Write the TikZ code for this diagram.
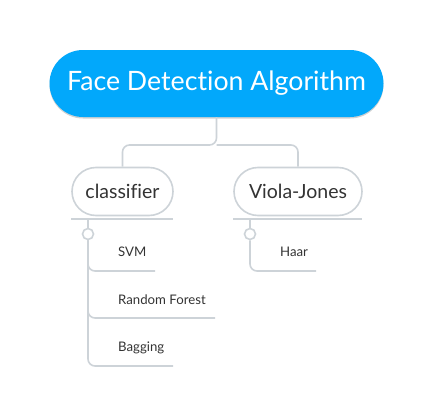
\documentclass[tikz,border=0pt]{standalone}
\usepackage{fontspec}
\setmainfont[Ligatures={NoCommon,NoRequired,NoContextual}]{Lato}
\usetikzlibrary{shadows}
\definecolor{rootblue}{HTML}{02A8FB}
\definecolor{linegray}{HTML}{CDD3D8}
\definecolor{txt}{HTML}{333333}
\tikzset{
  rootbox/.style={fill=rootblue, text=white, rounded corners=33.5pt, minimum width=334pt, minimum height=67pt, inner sep=0pt, font=\fontsize{26.7}{30}\selectfont,
    drop shadow={shadow xshift=0pt, shadow yshift=-1.5pt, opacity=0.18, fill=black}},
  subbox/.style={draw=linegray, line width=1.6pt, fill=white, text=txt, rounded corners=24pt, minimum height=48pt, inner sep=0pt, font=\fontsize{19.5}{22}\selectfont},
  conn/.style={draw=linegray, line width=1.6pt, rounded corners=7pt},
  leaf/.style={text=txt, anchor=west, inner sep=0pt, font=\fontsize{13.2}{15}\selectfont},
  knob/.style={circle, draw=linegray, line width=1.6pt, fill=white, minimum size=11pt, inner sep=0pt},
}
\begin{document}
\begin{tikzpicture}[x=1pt,y=-1pt]
\useasboundingbox (0,0) rectangle (434,415);
\node[rootbox] (root) at (216.5,83.5) {Face Detection Algorithm};
\node[subbox, minimum width=101pt] (cls) at (122.5,191.5) {classifier};
\node[subbox, minimum width=128pt] (vj) at (298,191.5) {Viola-Jones};
\coordinate (mid) at (216.5,145);
\draw[conn] (root.south) -- (mid) -| (cls.north);
\draw[conn] (mid) -| (vj.north);
% underlines
\coordinate (clsL) at (71,219);
\coordinate (clsR) at (173,219);
\coordinate (vjL) at (233,219);
\coordinate (vjR) at (362,219);
\draw[conn] (clsL) -- (clsR);
\draw[conn] (vjL) -- (vjR);
\node[knob] (k1) at (88,234) {};
\node[knob] (k2) at (250,234) {};
\draw[conn] (88,219) -- (k1.north);
\draw[conn] (250,219) -- (k2.north);
% leaves
\node[leaf] (svm) at (118,252) {SVM};
\node[leaf] (rf) at (118,300) {Random Forest};
\node[leaf] (bag) at (118,348) {Bagging};
\node[leaf] (haar) at (280,252) {Haar};
\coordinate (svmE) at (155,271);
\coordinate (rfE) at (215,318);
\coordinate (bagE) at (173,366);
\coordinate (haarE) at (316,271);
\draw[conn] (k1.south) |- (svmE);
\draw[conn] (k1.south) |- (rfE);
\draw[conn] (k1.south) |- (bagE);
\draw[conn] (k2.south) |- (haarE);
\end{tikzpicture}
\end{document}
